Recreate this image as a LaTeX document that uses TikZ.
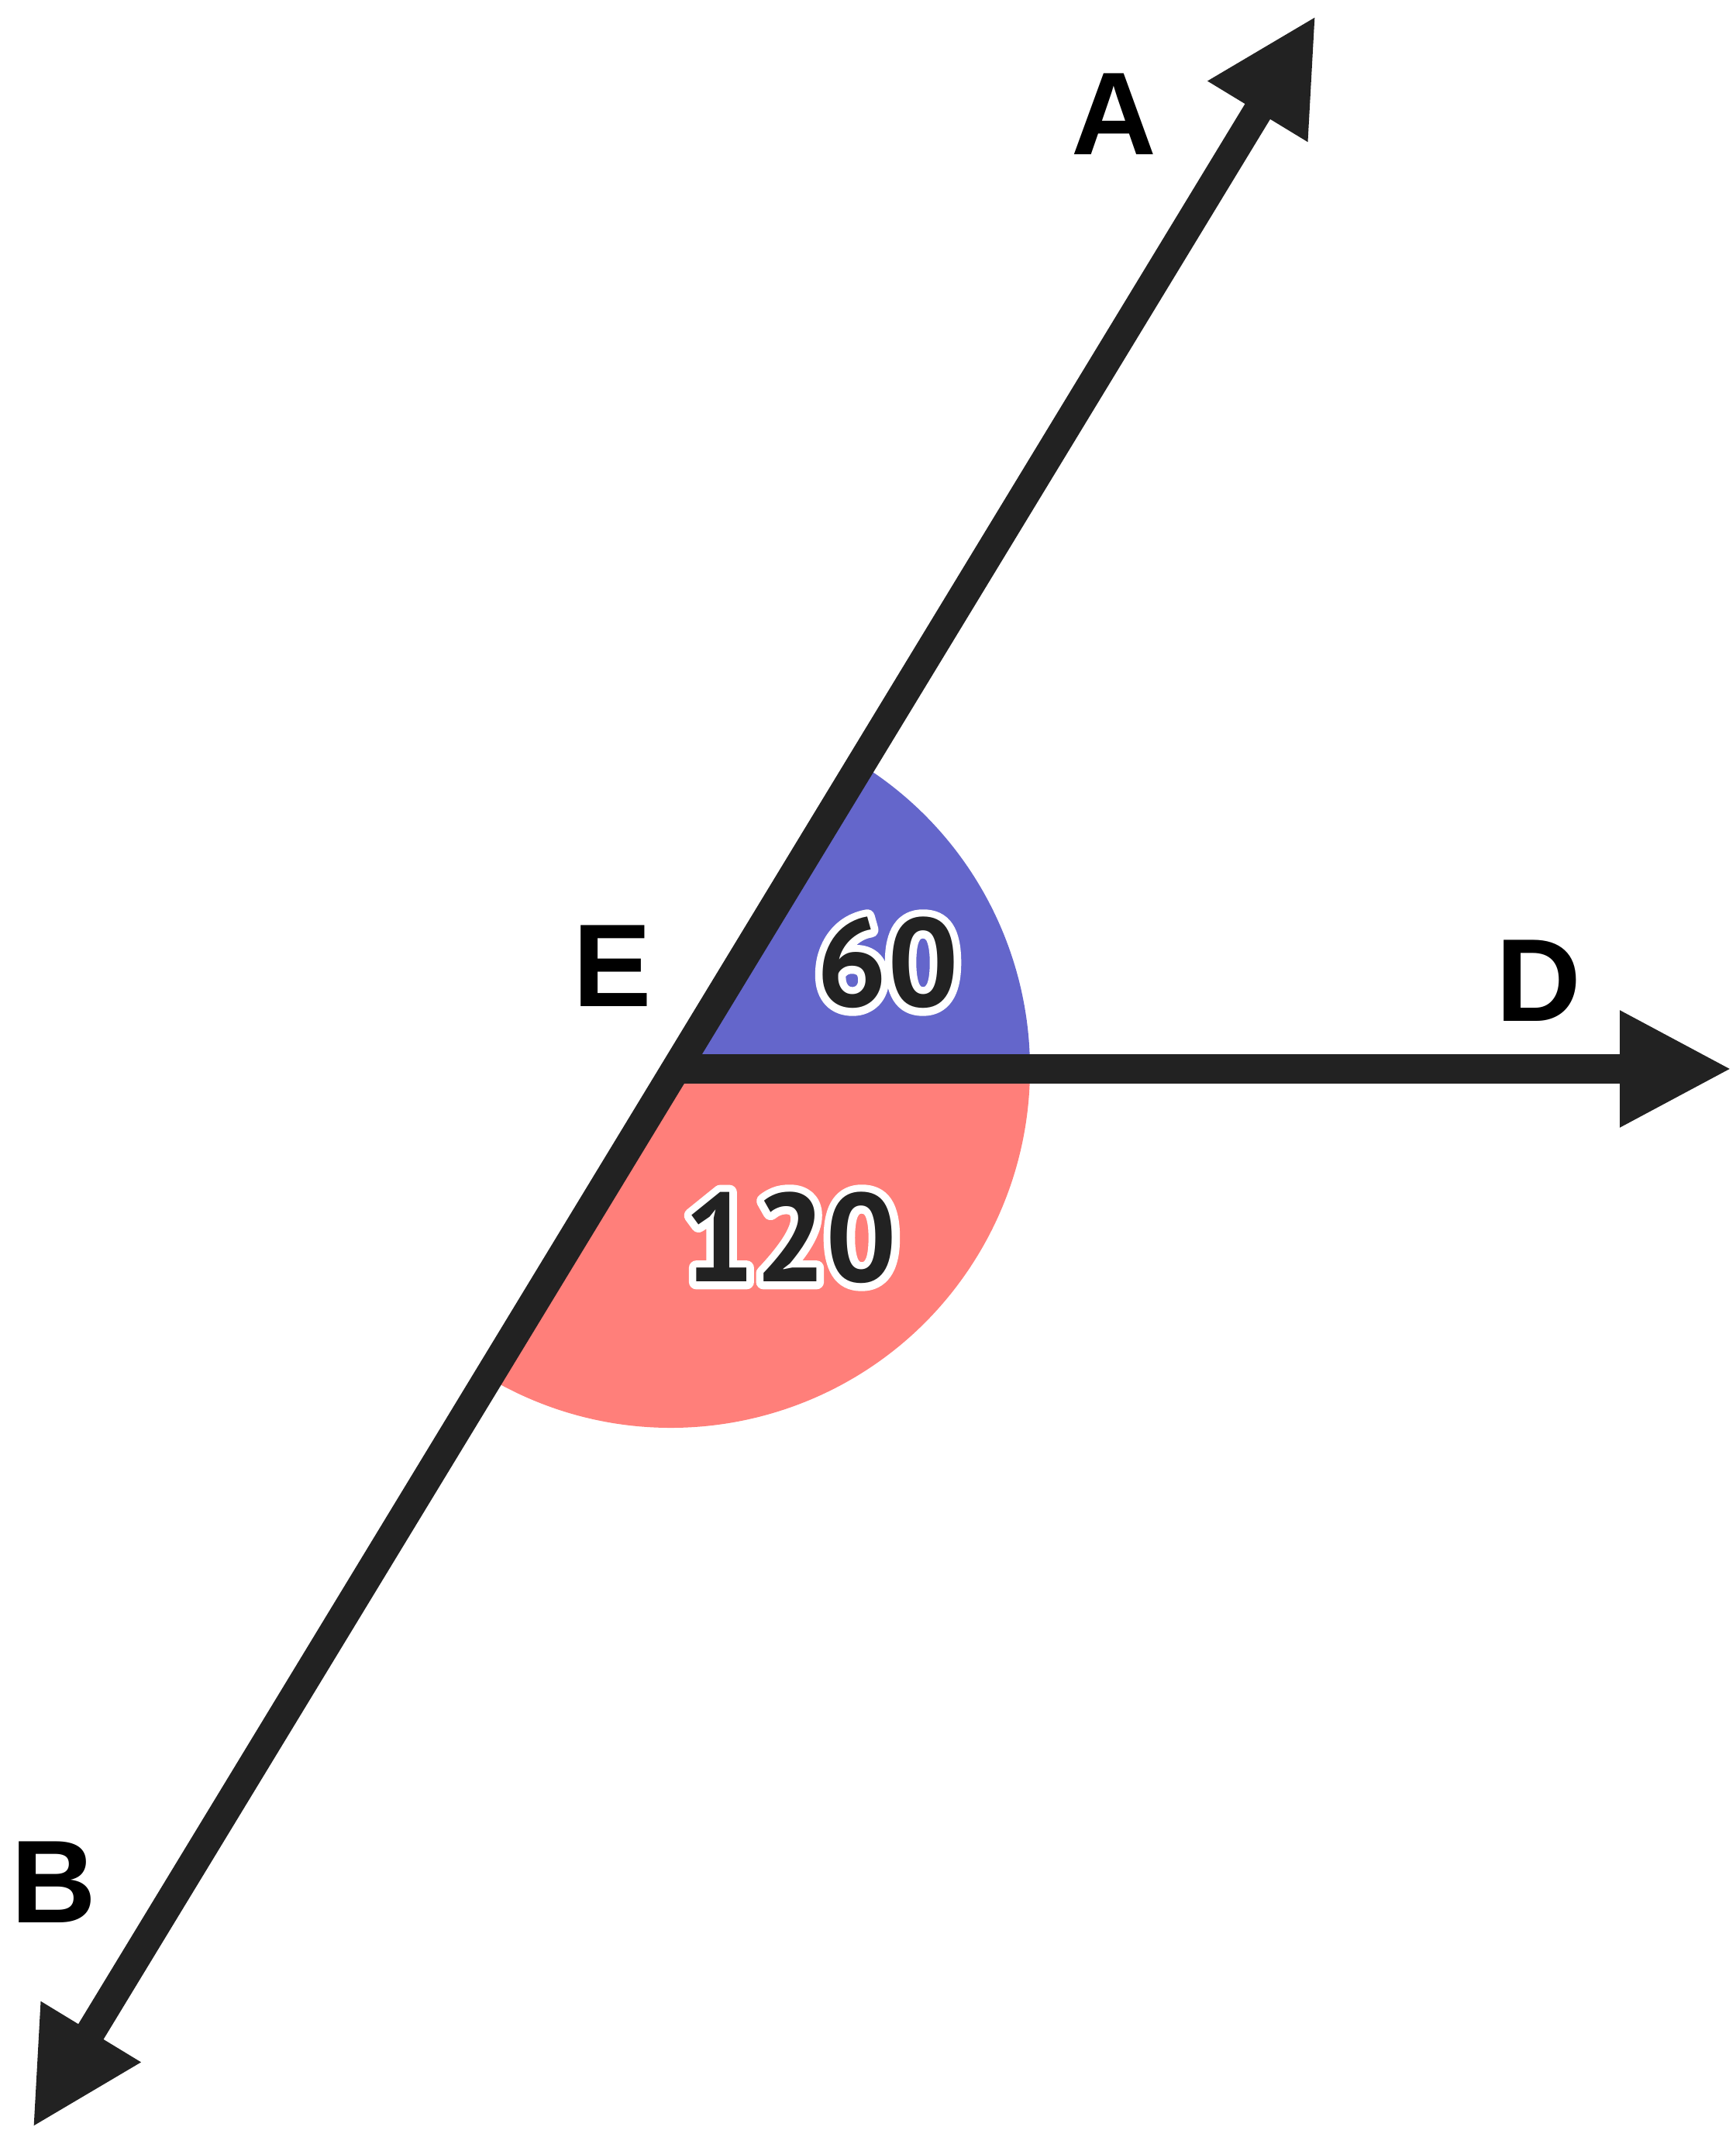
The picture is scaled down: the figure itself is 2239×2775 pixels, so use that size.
\documentclass[tikz,border=0pt]{standalone}
\usepackage{fontspec}
\usetikzlibrary{arrows.meta}
\newfontfamily\labfont{Liberation Sans}
\newfontface\numface{PT Sans Bold}
\newfontface\haloface{PT Sans Bold}[FakeBold=12]
\definecolor{lineclr}{HTML}{222222}
\definecolor{blueclr}{HTML}{6466CB}
\definecolor{redclr}{HTML}{FF7F7A}
\tikzset{
  ray/.style={draw=lineclr, line width=38pt, line cap=butt,
    -{Triangle[length=145pt, width=140pt]}},
  dblray/.style={draw=lineclr, line width=38pt, line cap=butt,
    {Triangle[length=145pt, width=140pt]}-{Triangle[length=145pt, width=140pt]}},
  letter/.style={inner sep=0pt, text=black, font=\labfont\bfseries\fontsize{152}{160}\selectfont},
  numtext/.style={inner sep=0pt, text=lineclr, font=\numface\fontsize{162}{170}\selectfont},
  numhalo/.style={inner sep=0pt, text=white, font=\haloface\fontsize{162}{170}\selectfont}
}
\begin{document}
\begin{tikzpicture}[x=1pt,y=1pt]
\useasboundingbox (0,0) rectangle (2239,2775);
% key points
\coordinate (A) at (1698,2755);
\coordinate (B) at (42,30);
\coordinate (E) at (871,1396);
\coordinate (D) at (2235,1396);
\coordinate (O) at (866,1396);
% angle sectors
\fill[blueclr] (O) -- ++(0:463) arc[start angle=0, end angle=58.68, radius=463] -- cycle;
\fill[redclr] (O) -- ++(238.68:463) arc[start angle=238.68, end angle=360, radius=463] -- cycle;
% lines
\draw[dblray] (B) -- (A);
\draw[ray] (E) -- (D);
% number labels with white outline
\begin{scope}[line join=round, line cap=round]
\node[numhalo] (h60) at (1145,1533) {60};
\node[numhalo] (h120) at (1020,1178) {120};
\end{scope}
\node[numtext] (n60) at (1145,1533) {60};
\node[numtext] (n120) at (1020,1178) {120};
% point labels
\node[letter] (lA) at (1437,2628) {A};
\node[letter] (lB) at (69,347) {B};
\node[letter] (lD) at (1985,1510) {D};
\node[letter] (lE) at (790,1529) {E};
\end{tikzpicture}
\end{document}
